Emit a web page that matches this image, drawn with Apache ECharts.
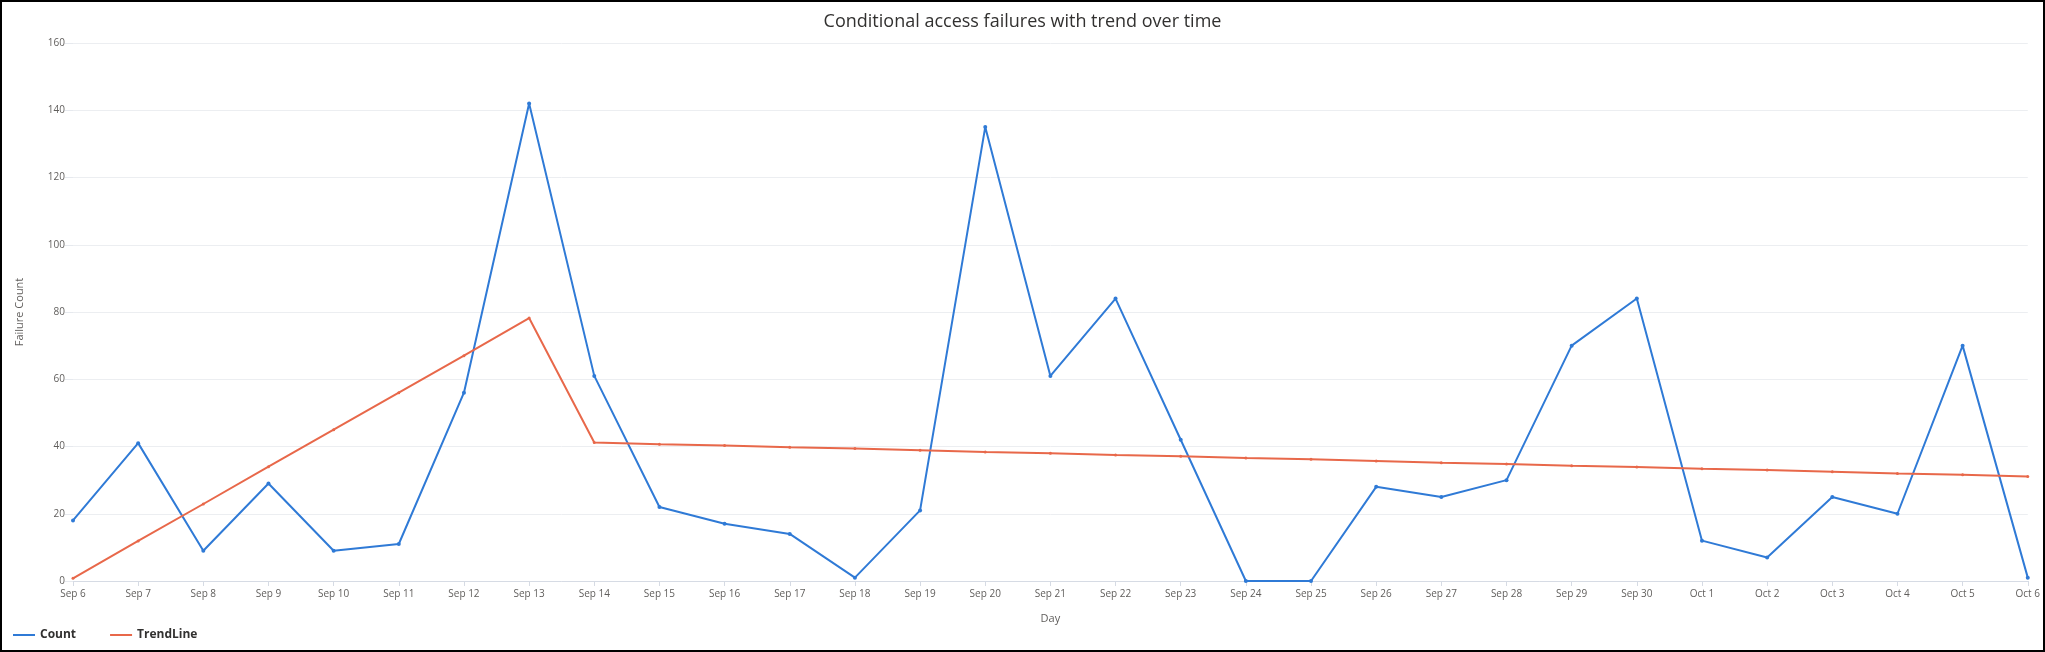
<!DOCTYPE html>
<html><head><meta charset="utf-8">
<script src="https://cdn.jsdelivr.net/npm/echarts@6/dist/echarts.min.js"></script>
<style>html,body{margin:0;padding:0;background:#fff}#c{width:2045px;height:652px;box-sizing:border-box;border:2px solid #000}</style>
</head><body><div id="c"></div>
<script>
const categories = ["Sep 6","Sep 7","Sep 8","Sep 9","Sep 10","Sep 11","Sep 12","Sep 13","Sep 14","Sep 15","Sep 16","Sep 17","Sep 18","Sep 19","Sep 20","Sep 21","Sep 22","Sep 23","Sep 24","Sep 25","Sep 26","Sep 27","Sep 28","Sep 29","Sep 30","Oct 1","Oct 2","Oct 3","Oct 4","Oct 5","Oct 6"];
const countValues = [18,41,9,29,9,11,56,142,61,22,17,14,1,21,135,61,84,42,0,0,28,25,30,70,84,12,7,25,20,70,1];
const trendValues = [0.8,11.9,22.9,34,45,56,67,78.2,41.2,40.7,40.3,39.8,39.4,38.9,38.4,38.0,37.5,37.1,36.6,36.2,35.7,35.2,34.8,34.3,33.9,33.4,33.0,32.5,32.0,31.6,31.1];
const chart = echarts.init(document.getElementById('c'));
const lab = {color:'#605e5c', fontSize:10, fontFamily:'Open Sans'};
chart.setOption({
  animation:false,
  title:{text:'Conditional access failures with trend over time', left:'center', top:6,
    textStyle:{fontSize:18, fontWeight:'normal', color:'#323130', fontFamily:'Open Sans'}},
  grid:{left:71, right:15, top:41, bottom:69},
  legend:{left:6, bottom:4, itemWidth:22, itemHeight:2, itemGap:34, icon:'rect',
    textStyle:{fontSize:12, fontWeight:'bold', color:'#323130', fontFamily:'Open Sans'},
    data:['Count','TrendLine']},
  xAxis:{type:'category', data:categories, boundaryGap:false, name:'Day', nameLocation:'middle', nameGap:32,
    nameTextStyle:{...lab, fontSize:11},
    axisLine:{lineStyle:{color:'#d6dbe4'}}, axisTick:{show:true, length:5, lineStyle:{color:'#d6dbe4'}},
    axisLabel:{...lab, interval:0, margin:8}},
  yAxis:{type:'value', min:0, max:160, interval:20, name:'Failure Count', nameLocation:'middle', nameGap:48,
    nameTextStyle:{...lab, fontSize:11},
    axisLine:{show:false}, axisTick:{show:true, length:8, lineStyle:{color:'#e6e9ee'}},
    axisLabel:{...lab}, splitLine:{lineStyle:{color:'#eceef1'}}},
  series:[
    {name:'Count', type:'line', data:countValues, color:'#2f7ad6', symbol:'circle', symbolSize:4, showAllSymbol:true,
      lineStyle:{width:2}},
    {name:'TrendLine', type:'line', data:trendValues, color:'#e8684a', symbol:'circle', symbolSize:3, showAllSymbol:true,
      lineStyle:{width:2}}
  ]
});
</script></body></html>
